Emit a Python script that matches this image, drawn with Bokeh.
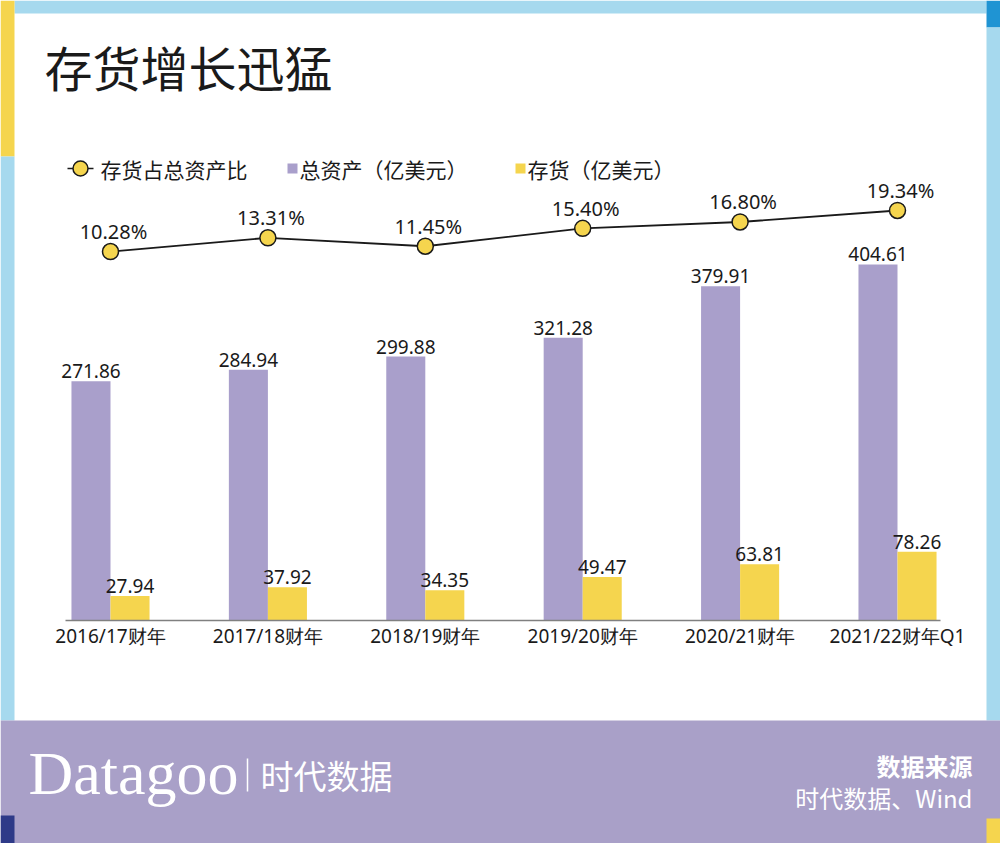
from bokeh.plotting import figure
from bokeh.models import Range1d, ColumnDataSource
from bokeh.transform import dodge
from bokeh.core.properties import value
from bokeh.embed import file_html
from bokeh.resources import INLINE

# ---- data ----
categories = ["2016/17财年", "2017/18财年", "2018/19财年", "2019/20财年", "2020/21财年", "2021/22财年Q1"]
total_assets = [271.86, 284.94, 299.88, 321.28, 379.91, 404.61]      # 亿美元
inventory = [27.94, 37.92, 34.35, 49.47, 63.81, 78.26]               # 亿美元
inventory_share = [10.28, 13.31, 11.45, 15.40, 16.80, 19.34]         # %

# ---- palette ----
PURPLE = "#A99FCB"
YELLOW = "#F5D54E"
LIGHT_BLUE = "#A6D9EE"
DARK_BLUE = "#1F94D3"
NAVY = "#2E3A88"
FOOTER = "#A9A0C8"
INK = "#1a1a1a"

CJK = value("Noto Sans CJK SC")
SANS = value("Noto Sans")

W, H = 1000, 843

# The canvas frame uses top-down pixel coordinates for the decorative layout;
# the chart itself is drawn on its own extra ranges.
p = figure(width=W, height=H, x_range=Range1d(0, W), y_range=Range1d(H, 0),
           x_axis_type=None, y_axis_type=None,
           output_backend="svg", toolbar_location=None,
           min_border=0, min_border_left=0, min_border_right=0,
           min_border_top=0, min_border_bottom=0)
p.outline_line_color = None
p.background_fill_color = "white"
p.border_fill_color = "white"
p.grid.visible = False

# chart scales
FIRST_PX = 110         # pixel column of the first category
SLOT_PX = 157.4        # pixels between category centres
BASE_PX = 620          # pixel row of the bar baseline
AMT_PX = 0.88          # pixels per 亿美元
PCT_ZERO_PX = 297.6    # pixel row where 0 % would sit
PCT_PX = 4.53          # pixels per percentage point
p.extra_x_ranges = {"cat": Range1d(-FIRST_PX / SLOT_PX, (W - FIRST_PX) / SLOT_PX)}
p.extra_y_ranges = {
    "amt": Range1d(-(H - BASE_PX) / AMT_PX, BASE_PX / AMT_PX),
    "pct": Range1d(-(H - PCT_ZERO_PX) / PCT_PX, PCT_ZERO_PX / PCT_PX),
}

# ---- frame decoration ----
deco = dict(line_color=None)
p.quad(left=[14], right=[986], top=[0], bottom=[13], fill_color=LIGHT_BLUE, **deco)
p.quad(left=[0], right=[14], top=[0], bottom=[156], fill_color=YELLOW, **deco)
p.quad(left=[0], right=[14], top=[156], bottom=[720], fill_color=LIGHT_BLUE, **deco)
p.quad(left=[986], right=[1000], top=[0], bottom=[27], fill_color=DARK_BLUE, **deco)
p.quad(left=[986], right=[1000], top=[27], bottom=[720], fill_color=LIGHT_BLUE, **deco)
p.quad(left=[0], right=[1000], top=[720], bottom=[843], fill_color=FOOTER, **deco)
p.quad(left=[0], right=[14], top=[815], bottom=[843], fill_color=NAVY, **deco)
p.quad(left=[986], right=[1000], top=[818], bottom=[843], fill_color=YELLOW, **deco)

# ---- title ----
p.text(x=[44], y=[65], text=["存货增长迅猛"], text_font=CJK, text_font_size="48px",
       text_baseline="middle", text_color=INK)

# ---- legend ----
LY = 168
p.segment(x0=[67], x1=[93], y0=[LY], y1=[LY], line_color=INK, line_width=1.6)
p.scatter(x=[80], y=[LY], size=15, fill_color=YELLOW, line_color=INK, line_width=1.5)
p.text(x=[100], y=[LY], text=["存货占总资产比"], text_font=CJK, text_font_size="21px",
       text_baseline="middle", text_color=INK)
p.quad(left=[287], right=[297], top=[LY - 5], bottom=[LY + 5], fill_color=PURPLE, line_color=None)
p.text(x=[299], y=[LY], text=["总资产（亿美元）"], text_font=CJK, text_font_size="21px",
       text_baseline="middle", text_color=INK)
p.quad(left=[515], right=[525], top=[LY - 5], bottom=[LY + 5], fill_color=YELLOW, line_color=None)
p.text(x=[527], y=[LY], text=["存货（亿美元）"], text_font=CJK, text_font_size="21px",
       text_baseline="middle", text_color=INK)

# ---- bars ----
src = ColumnDataSource(dict(
    idx=list(range(len(categories))),
    cat=categories,
    assets=total_assets,
    inv=inventory,
    share=inventory_share,
    assets_lbl=[f"{v:.2f}" for v in total_assets],
    inv_lbl=[f"{v:.2f}" for v in inventory],
    share_lbl=[f"{v:.2f}%" for v in inventory_share],
    zero=[0] * len(categories),
))
BW = 0.248
p.vbar(x=dodge("idx", -BW / 2), top="assets", width=BW, source=src,
       x_range_name="cat", y_range_name="amt", fill_color=PURPLE, line_color=None)
p.vbar(x=dodge("idx", BW / 2), top="inv", width=BW, source=src,
       x_range_name="cat", y_range_name="amt", fill_color=YELLOW, line_color=None)

lbl = dict(source=src, x_range_name="cat", y_range_name="amt", text_font=SANS,
           text_font_size="19px", text_align="center", text_baseline="middle",
           text_color=INK, y_offset=-10)
p.text(x=dodge("idx", -BW / 2), y="assets", text="assets_lbl", **lbl)
p.text(x=dodge("idx", BW / 2), y="inv", text="inv_lbl", **lbl)

# baseline and category labels
p.segment(x0=[65], x1=[940], y0=[0], y1=[0], y_range_name="amt",
          line_color="#808080", line_width=1.5)
p.text(x="idx", y="zero", text="cat", source=src, x_range_name="cat", y_range_name="amt",
       text_font=SANS, text_font_size="19px", text_align="center", text_baseline="middle",
       text_color=INK, y_offset=15)

# ---- inventory share line ----
p.line(x="idx", y="share", source=src, x_range_name="cat", y_range_name="pct",
       line_color=INK, line_width=1.8)
p.scatter(x="idx", y="share", source=src, x_range_name="cat", y_range_name="pct",
          size=16, fill_color=YELLOW, line_color=INK, line_width=1.5)
p.text(x="idx", y="share", text="share_lbl", source=src, x_range_name="cat", y_range_name="pct",
       text_font=SANS, text_font_size="20px", text_align="center", text_baseline="middle",
       text_color=INK, x_offset=3, y_offset=-20)

# ---- footer ----
p.text(x=[28], y=[772], text=["Datagoo"], text_font=value("Liberation Serif"),
       text_font_size="62px", text_baseline="middle", text_color="white")
p.segment(x0=[247], x1=[247], y0=[758], y1=[791], line_color="white", line_width=1.5)
p.text(x=[260], y=[774], text=["时代数据"], text_font=CJK, text_font_size="33px",
       text_baseline="middle", text_color="white")
p.text(x=[972], y=[765], text=["数据来源"], text_font=CJK, text_font_size="24px",
       text_font_style="bold", text_align="right", text_baseline="middle", text_color="white")
p.text(x=[972], y=[797], text=["时代数据、Wind"], text_font=CJK, text_font_size="24px",
       text_align="right", text_baseline="middle", text_color="white")

open("out.html", "w").write(file_html(p, INLINE))
